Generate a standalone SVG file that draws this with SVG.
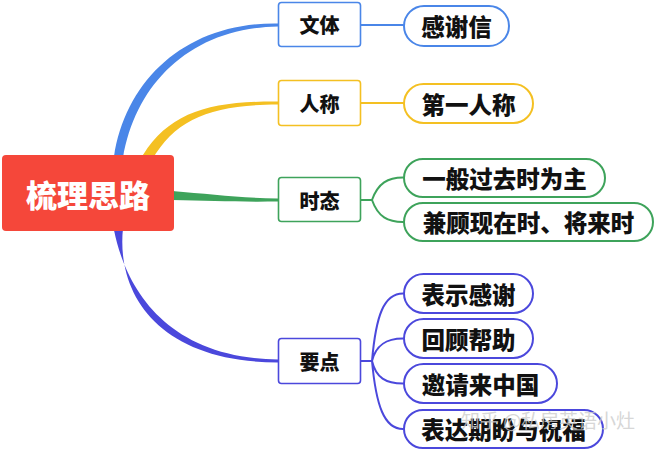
<svg xmlns="http://www.w3.org/2000/svg" width="655" height="449" viewBox="0 0 655 449">
<style>
text{font-family:"Noto Sans CJK SC","Noto Sans",sans-serif;font-weight:900;dominant-baseline:central;text-anchor:middle;fill:#111}
.l1{fill:#fff;stroke-width:1.6}
.l2{fill:#fff;stroke-width:2}
.t1{font-size:20px}
.t2{font-size:23.5px}
.c{fill:none;stroke-width:2;stroke-linecap:round}
.blue{stroke:#4a86e8}.yellow{stroke:#f4c022}.green{stroke:#3ea35b}.purple{stroke:#4b48dc}
</style>
<rect width="655" height="449" fill="#fff"/>
<g id="connectors">
<path d="M114,157 C126,78 188,22 278,23.5 L278,26.5 C192,28 136,82 123,158 Z" fill="#4a86e8"/>
<path d="M143,155 C170,112 210,101 278,101.5 L278,104.5 C212,105 176,118 152,160 Z" fill="#f4c022"/>
<path d="M172,191 C210,194 240,198 278,198.5 L278,201.5 C240,202 210,201 172,200 Z" fill="#3ea35b"/>
<path d="M114,230 C126,290 168,358 278,359.5 L278,362.5 C160,362 116,296 123,228 Z" fill="#4b48dc"/>
<circle cx="118.5" cy="157" r="4.5" fill="#4a86e8"/>
<circle cx="147.5" cy="157.5" r="4.5" fill="#f4c022"/>
<circle cx="172" cy="195.5" r="4.5" fill="#3ea35b"/>
<circle cx="118.5" cy="229" r="4.5" fill="#4b48dc"/>
<path class="c blue" d="M361,25 H403"/>
<path class="c yellow" d="M361,103 H403"/>
<path class="c green" d="M361,200 H372 C378,183 388,177.5 403,177.5 M372,200 C378,217 388,222 403,222"/>
<path class="c purple" d="M361,361 H372 C376,315 384,293.5 403,293.5 M372,361 C376,345 386,338.5 403,338.5 M372,361 C376,378 386,383.5 403,383.5 M372,361 C376,405 384,429 403,429"/>
</g>
<g id="root">
<rect x="2" y="155" width="172" height="76" rx="4" fill="#f5473a"/>
<text x="88" y="193" style="font-size:31px;fill:#fff">梳理思路</text>
</g>
<g id="n-wenti">
<rect class="l1 blue" x="278.5" y="2.5" width="82" height="44" rx="3"/>
<text class="t1" x="319.5" y="24.5">文体</text>
</g>
<g id="n-renchen">
<rect class="l1 yellow" x="278.5" y="80.5" width="82" height="45" rx="3"/>
<text class="t1" x="319.5" y="103">人称</text>
</g>
<g id="n-shitai">
<rect class="l1 green" x="278.5" y="177.5" width="82" height="44" rx="3"/>
<text class="t1" x="319.5" y="200">时态</text>
</g>
<g id="n-yaodian">
<rect class="l1 purple" x="278.5" y="338.5" width="82" height="45" rx="3"/>
<text class="t1" x="319.5" y="361">要点</text>
</g>
<g id="n-ganxiexin">
<rect class="l2 blue" x="404" y="6" width="105" height="40" rx="20"/>
<text class="t2" x="456.5" y="26">感谢信</text>
</g>
<g id="n-diyirenchen">
<rect class="l2 yellow" x="404" y="84" width="129" height="39" rx="19.5"/>
<text class="t2" x="468.5" y="103.5">第一人称</text>
</g>
<g id="n-yiban">
<rect class="l2 green" x="404" y="159" width="201" height="38" rx="19"/>
<text class="t2" x="504.5" y="178">一般过去时为主</text>
</g>
<g id="n-jiangu">
<rect class="l2 green" x="404" y="203" width="249" height="38" rx="19"/>
<text class="t2" x="528.5" y="222">兼顾现在时、将来时</text>
</g>
<g id="n-biaoshi">
<rect class="l2 purple" x="404" y="274" width="129" height="39" rx="19.5"/>
<text class="t2" x="468.5" y="293.5">表示感谢</text>
</g>
<g id="n-huigu">
<rect class="l2 purple" x="404" y="319" width="129" height="39" rx="19.5"/>
<text class="t2" x="468.5" y="338.5">回顾帮助</text>
</g>
<g id="n-yaoqing">
<rect class="l2 purple" x="404" y="364" width="153" height="39" rx="19.5"/>
<text class="t2" x="480.5" y="383.5">邀请来中国</text>
</g>
<g id="n-biaoda">
<rect class="l2 purple" x="404" y="410" width="199" height="38" rx="19"/>
<text class="t2" x="503.5" y="429">表达期盼与祝福</text>
</g>
<text x="548" y="419" style="font-size:19px;font-weight:normal;fill:#ccc;fill-opacity:0.8">知乎 @私房英语小灶</text>
</svg>
